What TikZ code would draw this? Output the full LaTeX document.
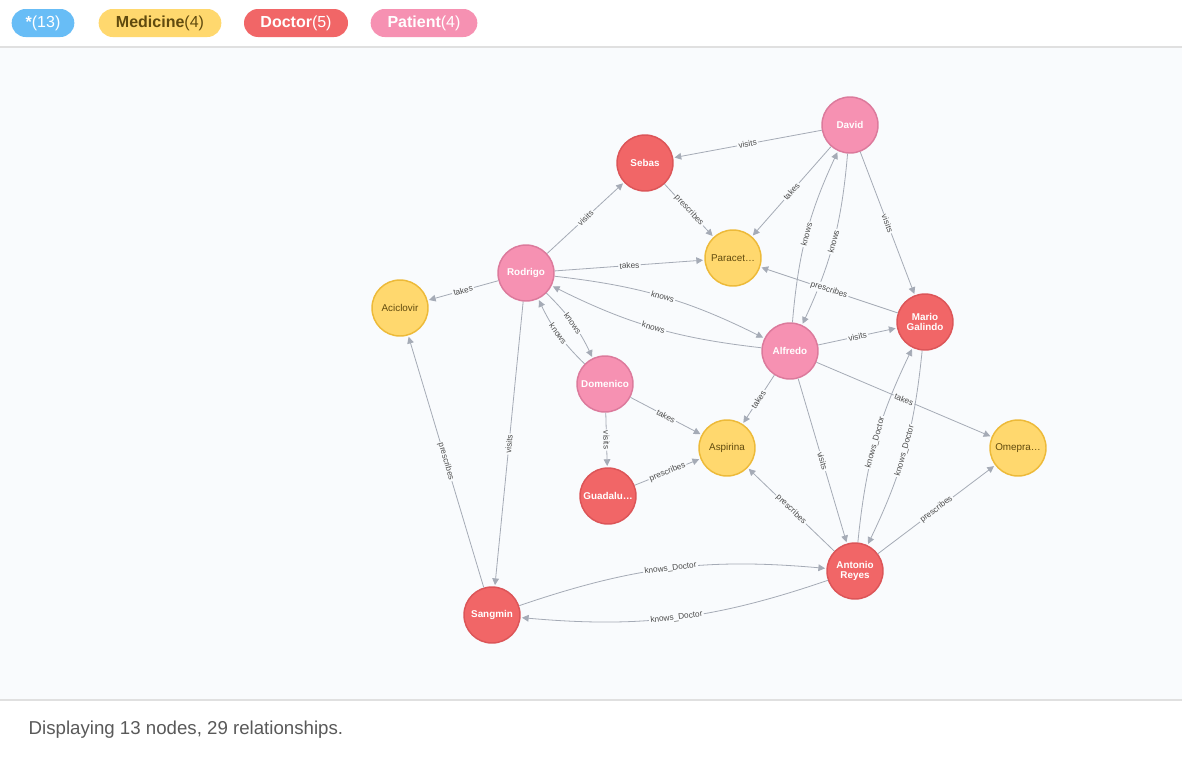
\documentclass[tikz,border=0pt]{standalone}
\usepackage{fontspec}
\setmainfont{Liberation Sans}
\usetikzlibrary{arrows.meta}
\definecolor{canvas}{HTML}{F9FBFD}
\definecolor{edgec}{HTML}{A5ABB6}
\definecolor{patf}{HTML}{F691B2}\definecolor{pats}{HTML}{DC7A9C}
\definecolor{docf}{HTML}{F16667}\definecolor{docs}{HTML}{DC5558}
\definecolor{medf}{HTML}{FFD86E}\definecolor{meds}{HTML}{EDBA39}
\definecolor{allc}{HTML}{68BDF6}\definecolor{medt}{HTML}{604A0E}
\tikzset{
 gnode/.style={circle,minimum size=42pt,inner sep=0pt,line width=1.1pt,font=\fontsize{7.4}{8}\selectfont\bfseries,align=center},
 pat/.style={gnode,fill=patf,draw=pats,text=white},
 doc/.style={gnode,fill=docf,draw=docs,text=white},
 med/.style={gnode,fill=medf,draw=meds,text=medt,font=\fontsize{7.4}{8}\selectfont},
 rel/.style={draw=edgec,line width=0.6pt,-{Triangle[length=5pt,width=5pt]},shorten >=1pt},
 lab/.style={sloped,fill=canvas,inner sep=1pt,text=black!70,font=\fontsize{6.2}{6}\selectfont},
 pill/.style={rounded corners=10.5pt,minimum height=21pt,inner sep=0pt,font=\fontsize{12}{12}\selectfont}
}
\begin{document}
\begin{tikzpicture}[x=0.75pt,y=-0.75pt]
\useasboundingbox (0,0) rectangle (1182,757);
\fill[white] (0,0) rectangle (1182,757);
\fill[canvas] (0,47) rectangle (1182,700);
\draw[black!12,line width=0.8pt] (0,47) -- (1182,47);
\draw[black!12,line width=0.8pt] (0,700) -- (1182,700);
\node[pill,fill=allc,text=white,minimum width=47pt] (p1) at (43,23) {\textbf{*}(13)};
\node[pill,fill=medf,text=medt,minimum width=92pt] (p2) at (160,23) {\textbf{Medicine}(4)};
\node[pill,fill=docf,text=white,minimum width=78pt] (p3) at (296,23) {\textbf{Doctor}(5)};
\node[pill,fill=patf,text=white,minimum width=80pt] (p4) at (424,23) {\textbf{Patient}(4)};
\node[anchor=west,text=black!65,font=\fontsize{14}{15}\selectfont] (st) at (24,730) {Displaying 13 nodes, 29 relationships.};

\node[pat] (david) at (850,125) {David};
\node[doc] (sebas) at (645,163) {Sebas};
\node[med] (para) at (733,258) {Paracet\dots};
\node[pat] (rod) at (526,273) {Rodrigo};
\node[med] (acic) at (400,308) {Aciclovir};
\node[doc] (mario) at (925,322) {Mario\\Galindo};
\node[pat] (alf) at (790,351) {Alfredo};
\node[pat] (dom) at (605,384) {Domenico};
\node[med] (asp) at (727,448) {Aspirina};
\node[med] (ome) at (1018,448) {Omepra\dots};
\node[doc] (guad) at (608,496) {Guadalu\dots};
\node[doc] (ant) at (855,571) {Antonio\\Reyes};
\node[doc] (sang) at (492,615) {Sangmin};

\path[rel] (david) -- node[lab]{visits} (sebas);
\path[rel] (sebas) -- node[lab]{prescribes} (para);
\path[rel] (david) -- node[lab]{takes} (para);
\path[rel] (rod) -- node[lab]{visits} (sebas);
\path[rel] (rod) -- node[lab]{takes} (para);
\path[rel] (rod) -- node[lab]{takes} (acic);
\path[rel] (rod) to[bend left=10] node[lab]{knows} (alf);
\path[rel] (alf) to[bend left=10] node[lab]{knows} (rod);
\path[rel] (rod) to[bend left=10] node[lab]{knows} (dom);
\path[rel] (dom) to[bend left=10] node[lab]{knows} (rod);
\path[rel] (alf) to[bend left=10] node[lab]{knows} (david);
\path[rel] (david) to[bend left=10] node[lab]{knows} (alf);
\path[rel] (david) -- node[lab]{visits} (mario);
\path[rel] (mario) -- node[lab]{prescribes} (para);
\path[rel] (alf) -- node[lab]{visits} (mario);
\path[rel] (alf) -- node[lab]{takes} (asp);
\path[rel] (alf) -- node[lab]{takes} (ome);
\path[rel] (alf) -- node[lab]{visits} (ant);
\path[rel] (ant) to[bend left=10] node[lab]{knows\_Doctor} (mario);
\path[rel] (mario) to[bend left=10] node[lab]{knows\_Doctor} (ant);
\path[rel] (ant) -- node[lab]{prescribes} (asp);
\path[rel] (ant) -- node[lab]{prescribes} (ome);
\path[rel] (dom) -- node[lab]{takes} (asp);
\path[rel] (dom) -- node[lab]{visits} (guad);
\path[rel] (guad) -- node[lab]{prescribes} (asp);
\path[rel] (rod) -- node[lab]{visits} (sang);
\path[rel] (sang) -- node[lab]{prescribes} (acic);
\path[rel] (sang) to[bend left=12] node[lab]{knows\_Doctor} (ant);
\path[rel] (ant) to[bend left=12] node[lab]{knows\_Doctor} (sang);
\end{tikzpicture}
\end{document}
